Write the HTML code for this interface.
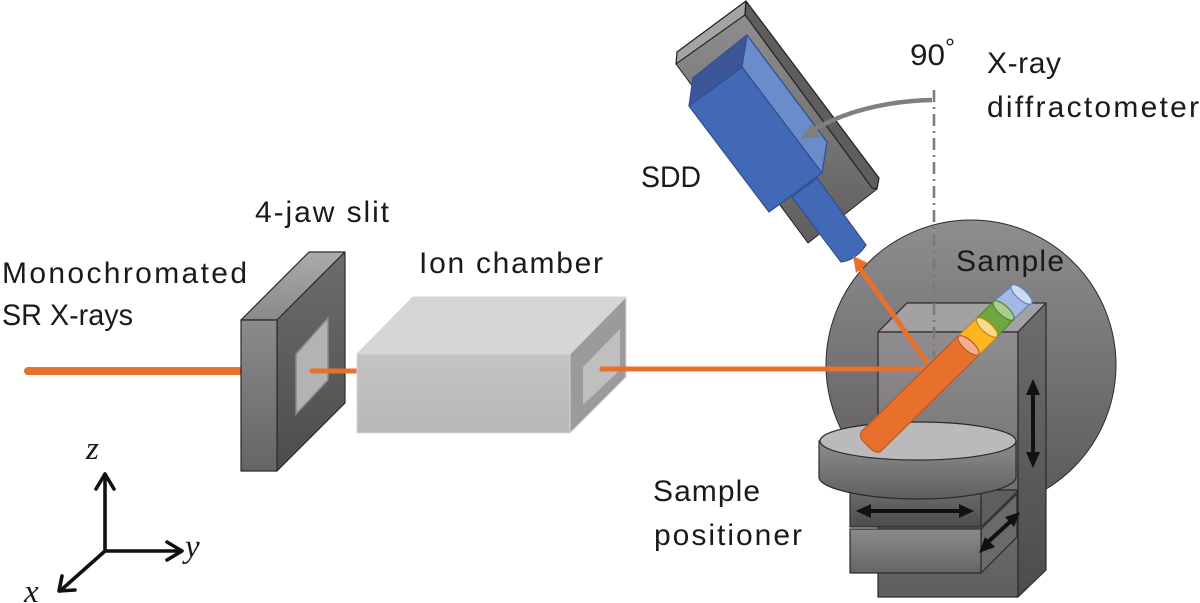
<!DOCTYPE html>
<html><head><meta charset="utf-8"><style>
html,body{margin:0;padding:0;background:#fff;width:1200px;height:603px;overflow:hidden}
svg{display:block}
text{font-family:"Liberation Sans",sans-serif;font-size:30px;fill:#1a1a1a}
.i{font-family:"Liberation Serif",serif;font-style:italic;font-size:33px}
</style></head><body>
<svg width="1200" height="603" viewBox="0 0 1200 603" xmlns="http://www.w3.org/2000/svg">
<defs>
<linearGradient id="g1" x1="0" y1="0" x2="0" y2="1"><stop offset="0" stop-color="#8f8d8f"/><stop offset="1" stop-color="#5f5d5e"/></linearGradient>
<linearGradient id="g2" x1="0" y1="0" x2="0" y2="1"><stop offset="0" stop-color="#6e6c6e"/><stop offset="1" stop-color="#4d4b4c"/></linearGradient>
<linearGradient id="g3" x1="0" y1="0" x2="0" y2="1"><stop offset="0" stop-color="#acaaac"/><stop offset="1" stop-color="#8a888a"/></linearGradient>
<linearGradient id="g4" x1="0" y1="0" x2="0" y2="1"><stop offset="0" stop-color="#c4c3c4"/><stop offset="1" stop-color="#b9b7b8"/></linearGradient>
<linearGradient id="g5" x1="0" y1="0" x2="0" y2="1"><stop offset="0" stop-color="#8f8d8f"/><stop offset="1" stop-color="#5a5859"/></linearGradient>
<linearGradient id="g6" x1="0" y1="0" x2="0" y2="1"><stop offset="0" stop-color="#8c8a8c"/><stop offset="1" stop-color="#666465"/></linearGradient>
</defs>

<!-- main beam -->
<line x1="28" y1="371" x2="245" y2="371" stroke="#e8702d" stroke-width="8" stroke-linecap="round"/>

<!-- slit -->
<g stroke="#2b2b2b" stroke-width="1.2" stroke-linejoin="round">
<polygon points="241,320 277,320 345,252 309,252" fill="url(#g3)"/>
<polygon points="277,320 345,252 345,403 277,471" fill="url(#g2)"/>
<polygon points="241,320 277,320 277,471 241,471" fill="url(#g6)"/>
</g>
<polygon points="296,354 328,318 328,380 296,414" fill="#b4b3b4" stroke="#8a888a" stroke-width="1.5"/>
<line x1="312" y1="371" x2="357" y2="371" stroke="#e8702d" stroke-width="5" stroke-linecap="round"/>

<!-- ion chamber -->
<g stroke="#d6d5d6" stroke-width="1" stroke-linejoin="round">
<polygon points="357,354 570,354 626,297 413,297" fill="#d6d5d7"/>
<polygon points="357,354 570,354 570,433 357,433" fill="url(#g4)"/>
<polygon points="570,354 626,297 626,377 570,433" fill="#9c9a9b"/>
</g>
<polygon points="583,367 620,329 620,370 583,405" fill="#c0bfc0"/>

<!-- back plate -->
<g stroke="#1f1f1f" stroke-width="1.2" stroke-linejoin="round">
<polygon points="677,52 746,1 745,15 676,64" fill="#a5a3a5"/>
<polygon points="746,1 879,178 877,189 872,188 745,15" fill="#5f5d5e"/>
<polygon points="676,64 745,15 872,188 877,189 808,243" fill="url(#g1)" stroke-width="1"/>
</g>

<!-- SDD -->
<g stroke="#2f4f8f" stroke-width="1.2" stroke-linejoin="round">
<path d="M817,178 L792,197 L841,262 Q856,260 866,245 Z" fill="#4269b5"/>
<polygon points="747,35 742,67 689,106 693,78" fill="#3d5698"/>
<polygon points="747,35 827,142 822,173 742,67" fill="#6a8ccb"/>
<polygon points="689,106 742,67 822,173 769,212" fill="#4269b5"/>
</g>

<!-- grey arrow -->
<path d="M932,100 C885,101 842,112 808,133" fill="none" stroke="#7f7f7f" stroke-width="4.5"/>
<polygon points="800,139 812,123 820,137" fill="#7f7f7f"/>

<!-- sample circle -->
<circle cx="971" cy="365" r="145" fill="url(#g5)" stroke="#2b2b2b" stroke-width="1"/>
<line x1="934" y1="90" x2="934" y2="365" stroke="#7a7a7a" stroke-width="2.5" stroke-dasharray="12 5 2 5"/>

<!-- block -->
<g stroke="#2b2b2b" stroke-width="1.2" stroke-linejoin="round">
<polygon points="878,332 1018,332 1046,303 907,303" fill="#a3a1a3"/>
<polygon points="878,332 1018,332 1018,597 878,597" fill="url(#g1)"/>
<polygon points="1018,332 1046,303 1046,570 1018,597" fill="url(#g2)"/>
</g>
<line x1="934" y1="303" x2="934" y2="356" stroke="#7a7a7a" stroke-width="2.5" stroke-dasharray="12 5 2 5"/>

<!-- beams -->
<line x1="602" y1="369" x2="926" y2="369" stroke="#e8702d" stroke-width="5" stroke-linecap="round"/>
<line x1="928" y1="364" x2="857" y2="264" stroke="#e8702d" stroke-width="5"/>
<polygon points="853,256 868,263 856,273" fill="#e8702d"/>

<!-- stages -->
<g stroke="#2b2b2b" stroke-width="1.2" stroke-linejoin="round">
<polygon points="981,529 1017,494 1017,537 981,573" fill="#6b696a"/>
<polygon points="850,529 981,529 981,573 850,573" fill="url(#g6)"/>
<polygon points="981,490 1017,490 1017,492 981,527" fill="#5f5d5e"/>
<polygon points="850,490 981,490 981,527 850,527" fill="url(#g2)"/>
</g>

<!-- disc -->
<path d="M819,441 L819,478 C822,490 870,499 918,499 C966,499 1013,490 1016,478 L1016,441 Z" fill="url(#g1)" stroke="#2b2b2b" stroke-width="1.2"/>
<ellipse cx="918" cy="441" rx="98" ry="19" fill="#bbb9bb" stroke="#2b2b2b" stroke-width="1.2"/>

<!-- tube -->
<g stroke-width="1.2" stroke-linejoin="round">
<polygon points="994,301 1012,286 1031,303 1013,320" fill="#a3b8e3" stroke="#5b85c8"/>
<ellipse cx="1021.5" cy="294.5" rx="13.5" ry="5" transform="rotate(42 1021.5 294.5)" fill="#cfdaf2" stroke="#5b85c8"/>
<polygon points="977,318 994,301 1013,320 997,337" fill="#6fa63e" stroke="#54822e"/>
<ellipse cx="1003.5" cy="310.5" rx="13.5" ry="5" transform="rotate(42 1003.5 310.5)" fill="#a9cc8f" stroke="#54822e"/>
<polygon points="958,336 977,318 997,337 979,355" fill="#fdb523" stroke="#c08a18"/>
<ellipse cx="987" cy="327.5" rx="13.5" ry="5" transform="rotate(42 987 327.5)" fill="#fdd98a" stroke="#c08a18"/>
<path d="M958,336 L979,355 L881,451 Q877,454 871,449 L862,440 Q859,435 862,431 Z" fill="#e8702d" stroke="#b9591f"/>
<ellipse cx="968.5" cy="345.5" rx="13.5" ry="5" transform="rotate(42 968.5 345.5)" fill="#f4ae8e" stroke="#b9591f"/>
</g>

<!-- black double arrows -->
<g stroke="#111" stroke-width="4" fill="#111">
<line x1="1033" y1="390" x2="1033" y2="457"/>
<polygon stroke="none" points="1033,379 1040,395 1026,395"/>
<polygon stroke="none" points="1033,468 1026,452 1040,452"/>
<line x1="868" y1="511" x2="962" y2="511"/>
<polygon stroke="none" points="856,511 871,504 871,518"/>
<polygon stroke="none" points="974,511 959,504 959,518"/>
<line x1="988" y1="542" x2="1012" y2="520"/>
<polygon stroke="none" points="1020,512 1014,527 1005,517"/>
<polygon stroke="none" points="979,553 985,537 995,547"/>
</g>

<!-- axes -->
<g fill="none" stroke="#111" stroke-width="3.6" stroke-linecap="round" stroke-linejoin="round">
<path d="M105,474 L105,551 L181,551"/>
<path d="M105,551 L60,591"/>
<path d="M96,489 L105,474 L114,489"/>
<path d="M167,542 L182,551 L167,560"/>
<path d="M62,576 L59,591 L75,590"/>
</g>

<!-- labels -->
<text x="2" y="283" textLength="245" lengthAdjust="spacing">Monochromated</text>
<text x="2" y="325" textLength="131" lengthAdjust="spacingAndGlyphs">SR X-rays</text>
<text x="255" y="222" textLength="134" lengthAdjust="spacing">4-jaw slit</text>
<text x="419" y="273" textLength="184" lengthAdjust="spacing">Ion chamber</text>
<text x="641" y="187" textLength="60" lengthAdjust="spacingAndGlyphs">SDD</text>
<text x="910" y="65" textLength="35" lengthAdjust="spacingAndGlyphs">90</text>
<text x="945" y="56" style="font-size:25px">°</text>
<text x="987" y="73" textLength="74" lengthAdjust="spacing">X-ray</text>
<text x="987" y="117" textLength="212" lengthAdjust="spacing">diffractometer</text>
<text x="956" y="271" textLength="108" lengthAdjust="spacing">Sample</text>
<text x="653" y="501" textLength="107" lengthAdjust="spacing">Sample</text>
<text x="654" y="545" textLength="148" lengthAdjust="spacing">positioner</text>
<text class="i" x="86" y="459">z</text>
<text class="i" x="185" y="557">y</text>
<text class="i" x="24" y="602">x</text>
</svg>
</body></html>
